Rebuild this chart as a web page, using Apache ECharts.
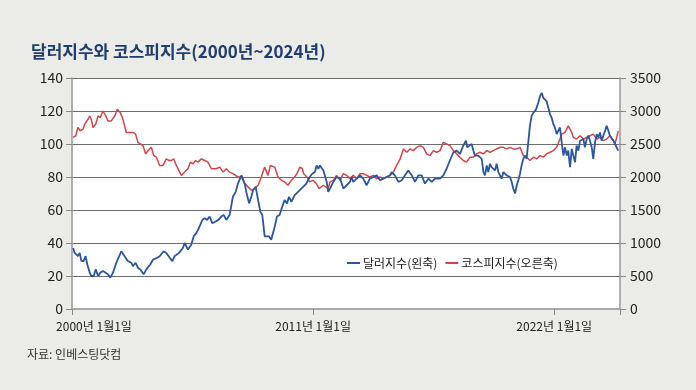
<!DOCTYPE html>
<html><head><meta charset="utf-8">
<script src="https://cdn.jsdelivr.net/npm/echarts@6/dist/echarts.min.js"></script>
<style>html,body{margin:0;padding:0;background:#ebebe7;}#c{width:696px;height:390px;}</style>
</head><body><div id="c"></div>
<script>
const titleText = '달러지수와 코스피지수(2000년~2024년)';
const sourceText = '자료: 인베스팅닷컴';
const seriesNames = ['달러지수(왼축)', '코스피지수(오른축)'];
const xTickYears = [2000, 2011, 2022];
const leftTicks = [0, 20, 40, 60, 80, 100, 120, 140];
const rightTicks = [0, 500, 1000, 1500, 2000, 2500, 3000, 3500];

const dollarYears = [2000.05,2000.12,2000.20,2000.27,2000.35,2000.43,2000.53,2000.62,2000.70,2000.81,2000.88,2000.99,2001.08,2001.19,2001.29,2001.41,2001.54,2001.64,2001.75,2001.87,2002.02,2002.25,2002.40,2002.55,2002.71,2002.78,2002.90,2003.01,2003.12,2003.27,2003.39,2003.57,2003.70,2003.77,2003.88,2004.00,2004.18,2004.30,2004.46,2004.58,2004.68,2004.88,2005.06,2005.14,2005.29,2005.44,2005.55,2005.67,2005.75,2005.82,2005.95,2006.05,2006.16,2006.28,2006.40,2006.55,2006.68,2006.81,2006.92,2007.04,2007.19,2007.34,2007.47,2007.57,2007.65,2007.73,2007.80,2007.88,2007.95,2008.08,2008.18,2008.26,2008.38,2008.49,2008.59,2008.68,2008.79,2008.87,2008.99,2009.09,2009.25,2009.35,2009.47,2009.59,2009.70,2009.81,2009.90,2010.01,2010.16,2010.31,2010.39,2010.54,2010.69,2010.84,2010.96,2011.08,2011.16,2011.24,2011.31,2011.39,2011.47,2011.54,2011.62,2011.69,2011.77,2011.92,2012.07,2012.23,2012.38,2012.53,2012.68,2012.76,2012.83,2012.99,2013.14,2013.29,2013.44,2013.59,2013.75,2013.90,2014.05,2014.20,2014.36,2014.51,2014.58,2014.73,2014.89,2015.04,2015.19,2015.34,2015.50,2015.65,2015.80,2015.95,2016.10,2016.26,2016.41,2016.56,2016.79,2016.94,2017.09,2017.24,2017.40,2017.55,2017.70,2017.85,2017.97,2018.03,2018.13,2018.23,2018.31,2018.38,2018.46,2018.53,2018.61,2018.69,2018.77,2018.84,2018.92,2018.99,2019.07,2019.14,2019.22,2019.30,2019.37,2019.45,2019.53,2019.60,2019.68,2019.75,2019.83,2019.91,2019.98,2020.06,2020.13,2020.21,2020.29,2020.36,2020.44,2020.51,2020.59,2020.67,2020.74,2020.82,2020.89,2020.97,2021.05,2021.17,2021.27,2021.35,2021.43,2021.50,2021.58,2021.65,2021.73,2021.81,2021.88,2021.96,2022.03,2022.11,2022.19,2022.26,2022.34,2022.42,2022.49,2022.57,2022.64,2022.72,2022.80,2022.87,2022.95,2023.02,2023.10,2023.18,2023.25,2023.33,2023.40,2023.48,2023.56,2023.63,2023.71,2023.78,2023.86,2023.94,2024.01,2024.09,2024.16,2024.24,2024.32,2024.39,2024.47,2024.54,2024.62,2024.70,2024.77,2024.85,2024.92];
const dollarValues = [37,34,35,32,34,29,29,32,27,22,20,20,24,20,22,23,22,21,19,22,28,35,32,29,28,26,28,25,24,21,24,27,30,29,31,32,35,34,31,29,32,34,37,40,36,39,44,46,48,47,54,55,54,56,52,53,54,56,57,54,57,68,71,76,75,81,82,76,71,64,68,72,74,66,59,57,44,43,44,42,50,56,57,62,66,64,68,65,69,71,70,74,76,80,82,83,87,85,87,86,84,85,77,71,73,77,80,79,73,75,77,80,77,79,81,79,75,79,80,81,78,79,80,81,83,81,77,78,81,84,81,77,81,81,76,79,77,79,79,81,85,90,95,96,94,99,102,98,99,100,96,93,92,93,92,91,83,81,87,83,88,86,87,84,88,83,82,79,83,82,81,82,80,77,73,70,75,78,82,87,91,93,91,92,111,117,119,121,125,129,131,128,128,126,122,118,116,112,110,106,107,110,101,93,98,93,96,86,97,93,89,99,96,102,101,103,98,103,105,102,98,91,101,106,104,107,102,105,108,111,108,105,104,102,100,99,96];

const kospiYears = [2000.05,2000.17,2000.27,2000.38,2000.50,2000.58,2000.73,2000.81,2000.88,2000.96,2001.08,2001.19,2001.29,2001.41,2001.54,2001.64,2001.79,2001.95,2002.07,2002.20,2002.30,2002.40,2002.48,2002.63,2002.78,2002.90,2003.01,2003.12,2003.24,2003.36,2003.47,2003.62,2003.73,2003.85,2004.00,2004.15,2004.30,2004.43,2004.53,2004.64,2004.76,2004.91,2004.99,2005.14,2005.29,2005.40,2005.52,2005.64,2005.75,2005.90,2006.05,2006.20,2006.36,2006.58,2006.74,2006.89,2007.04,2007.19,2007.34,2007.57,2007.73,2007.88,2008.03,2008.18,2008.33,2008.49,2008.64,2008.79,2008.87,2008.94,2009.05,2009.14,2009.25,2009.32,2009.40,2009.55,2009.70,2009.85,2010.01,2010.16,2010.26,2010.39,2010.51,2010.57,2010.66,2010.72,2010.84,2010.99,2011.15,2011.27,2011.47,2011.69,2011.77,2011.92,2012.07,2012.23,2012.38,2012.53,2012.68,2012.83,2012.99,2013.14,2013.29,2013.44,2013.59,2013.75,2013.90,2014.05,2014.20,2014.36,2014.51,2014.66,2014.81,2014.97,2015.12,2015.27,2015.42,2015.57,2015.73,2015.88,2016.03,2016.18,2016.33,2016.49,2016.64,2016.79,2016.94,2017.09,2017.24,2017.40,2017.55,2017.70,2017.85,2018.00,2018.16,2018.31,2018.46,2018.61,2018.77,2018.92,2019.07,2019.22,2019.37,2019.53,2019.68,2019.83,2019.98,2020.13,2020.29,2020.44,2020.59,2020.74,2020.89,2021.05,2021.20,2021.35,2021.50,2021.65,2021.81,2021.96,2022.11,2022.19,2022.26,2022.34,2022.49,2022.64,2022.72,2022.80,2022.87,2023.02,2023.18,2023.33,2023.48,2023.63,2023.78,2023.94,2024.09,2024.24,2024.39,2024.54,2024.70,2024.77,2024.85,2024.92];
const kospiValues = [2600,2625,2750,2700,2725,2800,2875,2925,2875,2750,2800,2925,2900,3000,2925,2850,2850,2925,3025,2975,2900,2775,2675,2675,2675,2650,2525,2500,2475,2350,2400,2450,2325,2300,2175,2175,2275,2250,2250,2275,2175,2075,2025,2075,2125,2225,2200,2250,2225,2275,2250,2225,2125,2125,2150,2075,2125,2075,2050,2000,2000,1900,1850,1800,1825,1875,2000,2150,2175,2025,2175,2200,2150,2125,2000,1950,1925,1875,1950,2000,2050,2150,2125,2050,2075,2000,1925,1950,1900,1825,1875,1825,1925,1950,2025,1950,2050,2025,1975,2025,1975,2050,2050,2025,2000,2025,1975,2000,1975,2000,2025,2075,2175,2275,2425,2375,2425,2400,2450,2475,2450,2350,2325,2400,2375,2400,2525,2500,2475,2400,2350,2300,2250,2225,2300,2300,2350,2375,2350,2400,2375,2400,2425,2450,2450,2425,2450,2425,2425,2450,2325,2300,2250,2300,2275,2325,2300,2350,2375,2400,2450,2475,2575,2650,2675,2775,2750,2675,2600,2575,2625,2575,2600,2625,2650,2575,2600,2550,2575,2625,2550,2500,2600,2700];

const FONT = '"Noto Sans CJK KR", "Noto Sans", sans-serif';
const dollarData = dollarYears.map((y, i) => [y - 2000, dollarValues[i]]);
const kospiData = kospiYears.map((y, i) => [y - 2000, kospiValues[i]]);

const chart = echarts.init(document.getElementById('c'), null, {renderer: 'canvas'});
chart.setOption({
  backgroundColor: '#ebebe7',
  animation: false,
  title: {
    text: titleText, left: 26, top: 38,
    textStyle: {fontFamily: FONT, fontSize: 17, fontWeight: 'bold', color: '#1f3d6e'}
  },
  graphic: [{
    type: 'text', left: 27, top: 348,
    style: {text: sourceText, font: '12px ' + FONT, fill: '#333'}
  }],
  legend: {
    data: seriesNames, left: 342, top: 252, itemGap: 8,
    icon: 'rect', itemWidth: 13, itemHeight: 2,
    textStyle: {fontFamily: FONT, fontSize: 12, color: '#222', padding: [0, 0, 0, -2]}
  },
  grid: {left: 72, right: 76, top: 78, bottom: 81, show: true, backgroundColor: '#ffffff', borderWidth: 0},
  xAxis: {
    type: 'value', min: 0, max: 25, interval: 11,
    axisLine: {show: true, lineStyle: {color: '#aaaaaa', width: 2}},
    axisTick: {show: true, length: 6, lineStyle: {color: '#888'}},
    splitLine: {show: false},
    axisLabel: {
      fontFamily: FONT, fontSize: 12, color: '#222', margin: 11,
      formatter: v => {
        const yr = 2000 + v;
        if (xTickYears.indexOf(yr) < 0) return '';
        return yr === xTickYears[0] ? '{a|' + yr + '년 1월1일}' : yr + '년 1월1일';
      },
      rich: {a: {fontFamily: FONT, fontSize: 12, color: '#222', padding: [0, 0, 0, 44]}}
    }
  },
  yAxis: [{
    type: 'value', min: leftTicks[0], max: leftTicks[leftTicks.length - 1], interval: leftTicks[1] - leftTicks[0],
    axisLine: {show: true, lineStyle: {color: '#999', width: 1.5}},
    axisTick: {show: true, length: 6, lineStyle: {color: '#888'}},
    splitLine: {show: true, lineStyle: {color: '#6e6e6e', width: 1}},
    axisLabel: {fontFamily: FONT, fontSize: 14, color: '#222', margin: 9, formatter: v => String(v)}
  }, {
    type: 'value', min: rightTicks[0], max: rightTicks[rightTicks.length - 1], interval: rightTicks[1] - rightTicks[0],
    position: 'right',
    axisLine: {show: true, lineStyle: {color: '#999', width: 1.5}},
    axisTick: {show: true, length: 6, lineStyle: {color: '#888'}},
    splitLine: {show: false},
    axisLabel: {fontFamily: FONT, fontSize: 14, color: '#222', margin: 10, formatter: v => String(v)}
  }],
  series: [{
    name: seriesNames[0], type: 'line', yAxisIndex: 0, data: dollarData,
    showSymbol: false, z: 3,
    lineStyle: {color: '#2b569c', width: 1.8}, itemStyle: {color: '#2b569c'}
  }, {
    name: seriesNames[1], type: 'line', yAxisIndex: 1, data: kospiData,
    showSymbol: false, z: 2,
    lineStyle: {color: '#d0474a', width: 1.5}, itemStyle: {color: '#d0474a'}
  }]
});
</script></body></html>
